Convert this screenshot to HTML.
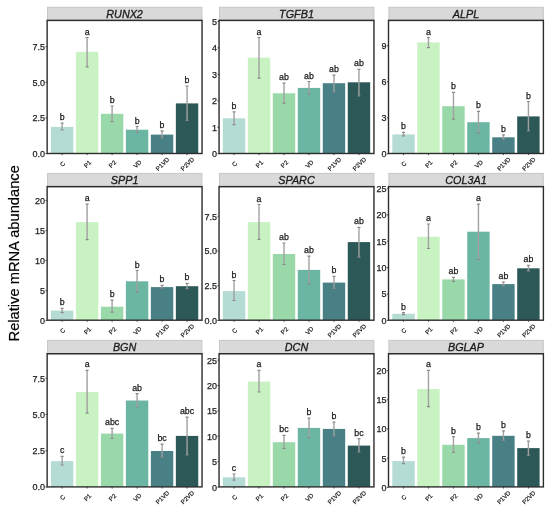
<!DOCTYPE html>
<html><head><meta charset="utf-8"><title>Relative mRNA abundance</title>
<style>
html,body{margin:0;padding:0;background:#fff;}
body{width:550px;height:511px;overflow:hidden;}
svg{display:block;}
text{font-family:"Liberation Sans",Arial,sans-serif;}
.st{font-style:italic;font-size:10.8px;fill:#1a1a1a;stroke:#1a1a1a;stroke-width:0.3;text-anchor:middle;}
.yt{font-size:9.0px;fill:#222;stroke:#222;stroke-width:0.25;text-anchor:end;}
.xt{font-size:6.1px;fill:#222;stroke:#222;stroke-width:0.2;text-anchor:middle;}
.lb{font-size:8.8px;fill:#1a1a1a;stroke:#1a1a1a;stroke-width:0.25;text-anchor:middle;}
.eb{stroke:#a0a0a0;stroke-width:1.4;fill:none;}
.ec{stroke:#8a8a8a;stroke-width:1.2;fill:none;}
.bd{fill:none;stroke:#2d2d2d;stroke-width:1.4;}
.tk{stroke:#333;stroke-width:0.9;}
</style></head><body>
<svg width="550" height="511" viewBox="0 0 550 511">
<rect width="550" height="511" fill="#fff"/>
<text x="0" y="0" transform="translate(18.7,253.3) rotate(-90)" style="font-size:14.7px;fill:#000;stroke:#000;stroke-width:0.2;text-anchor:middle;">Relative mRNA abundance</text>

<g>
<rect x="47.54" y="7.3" width="154.4" height="13.55" fill="#d9d9d9" stroke="#c6c6c6" stroke-width="1"/>
<text class="st" x="124.59" y="17.95">RUNX2</text>
<rect x="50.93" y="126.9" width="22.4" height="26.6" fill="#b4dcd4"/>
<rect x="75.91" y="51.8" width="22.4" height="101.7" fill="#c8f2c2"/>
<rect x="100.9" y="113.8" width="22.4" height="39.7" fill="#99d8a8"/>
<rect x="125.88" y="129.7" width="22.4" height="23.8" fill="#6ab6a3"/>
<rect x="150.87" y="134.6" width="22.4" height="18.9" fill="#488085"/>
<rect x="175.85" y="103.4" width="22.4" height="50.1" fill="#2c5958"/>
<path class="eb" d="M62.13 123.2V130"/><path class="ec" d="M60.63 123.2H63.63M60.63 130H63.63"/>
<path class="eb" d="M87.11 37.5V66.9"/><path class="ec" d="M85.61 37.5H88.61M85.61 66.9H88.61"/>
<path class="eb" d="M112.1 106V121.6"/><path class="ec" d="M110.6 106H113.6M110.6 121.6H113.6"/>
<path class="eb" d="M137.08 126.5V132.4"/><path class="ec" d="M135.58 126.5H138.58M135.58 132.4H138.58"/>
<path class="eb" d="M162.07 130.8V137.9"/><path class="ec" d="M160.57 130.8H163.57M160.57 137.9H163.57"/>
<path class="eb" d="M187.05 86V120.3"/><path class="ec" d="M185.55 86H188.55M185.55 120.3H188.55"/>
<text class="lb" x="62.13" y="120.2">b</text>
<text class="lb" x="87.11" y="34.5">a</text>
<text class="lb" x="112.1" y="103">b</text>
<text class="lb" x="137.08" y="123.5">b</text>
<text class="lb" x="162.07" y="127.8">b</text>
<text class="lb" x="187.05" y="83">b</text>
<rect class="bd" x="47.14" y="20.35" width="154.9" height="133.15"/>
<path class="tk" d="M45.54 153.6H47.14"/>
<text class="yt" x="45.04" y="157">0.0</text>
<path class="tk" d="M45.54 117.97H47.14"/>
<text class="yt" x="45.04" y="121.38">2.5</text>
<path class="tk" d="M45.54 82.35H47.14"/>
<text class="yt" x="45.04" y="85.75">5.0</text>
<path class="tk" d="M45.54 46.72H47.14"/>
<text class="yt" x="45.04" y="50.12">7.5</text>
<path class="tk" d="M62.13 153.5V155.1"/>
<text class="xt" transform="translate(62.63,164.1) rotate(-45)" x="0" y="2">C</text>
<path class="tk" d="M87.11 153.5V155.1"/>
<text class="xt" transform="translate(87.61,164.1) rotate(-45)" x="0" y="2">P1</text>
<path class="tk" d="M112.1 153.5V155.1"/>
<text class="xt" transform="translate(112.6,164.1) rotate(-45)" x="0" y="2">P2</text>
<path class="tk" d="M137.08 153.5V155.1"/>
<text class="xt" transform="translate(137.58,164.1) rotate(-45)" x="0" y="2">VD</text>
<path class="tk" d="M162.07 153.5V155.1"/>
<text class="xt" transform="translate(162.57,164.1) rotate(-45)" x="0" y="2">P1VD</text>
<path class="tk" d="M187.05 153.5V155.1"/>
<text class="xt" transform="translate(187.55,164.1) rotate(-45)" x="0" y="2">P2VD</text>
</g>
<g>
<rect x="219.45" y="7.3" width="154.4" height="13.55" fill="#d9d9d9" stroke="#c6c6c6" stroke-width="1"/>
<text class="st" x="296.5" y="17.95">TGFB1</text>
<rect x="222.84" y="118.3" width="22.4" height="35.2" fill="#b4dcd4"/>
<rect x="247.82" y="57.7" width="22.4" height="95.8" fill="#c8f2c2"/>
<rect x="272.81" y="93.3" width="22.4" height="60.2" fill="#99d8a8"/>
<rect x="297.79" y="87.9" width="22.4" height="65.6" fill="#6ab6a3"/>
<rect x="322.78" y="83.2" width="22.4" height="70.3" fill="#488085"/>
<rect x="347.76" y="82.3" width="22.4" height="71.2" fill="#2c5958"/>
<path class="eb" d="M234.04 111.9V124.6"/><path class="ec" d="M232.54 111.9H235.54M232.54 124.6H235.54"/>
<path class="eb" d="M259.02 37.5V78.2"/><path class="ec" d="M257.52 37.5H260.52M257.52 78.2H260.52"/>
<path class="eb" d="M284.01 83.1V103.1"/><path class="ec" d="M282.51 83.1H285.51M282.51 103.1H285.51"/>
<path class="eb" d="M308.99 81.5V93.8"/><path class="ec" d="M307.49 81.5H310.49M307.49 93.8H310.49"/>
<path class="eb" d="M333.98 75.2V91.9"/><path class="ec" d="M332.48 75.2H335.48M332.48 91.9H335.48"/>
<path class="eb" d="M358.96 69.4V95.8"/><path class="ec" d="M357.46 69.4H360.46M357.46 95.8H360.46"/>
<text class="lb" x="234.04" y="108.9">b</text>
<text class="lb" x="259.02" y="34.5">a</text>
<text class="lb" x="284.01" y="80.1">ab</text>
<text class="lb" x="308.99" y="78.5">ab</text>
<text class="lb" x="333.98" y="72.2">ab</text>
<text class="lb" x="358.96" y="66.4">ab</text>
<rect class="bd" x="219.05" y="20.35" width="154.9" height="133.15"/>
<path class="tk" d="M217.45 153.7H219.05"/>
<text class="yt" x="216.95" y="157.1">0</text>
<path class="tk" d="M217.45 127.25H219.05"/>
<text class="yt" x="216.95" y="130.65">1</text>
<path class="tk" d="M217.45 100.8H219.05"/>
<text class="yt" x="216.95" y="104.2">2</text>
<path class="tk" d="M217.45 74.35H219.05"/>
<text class="yt" x="216.95" y="77.75">3</text>
<path class="tk" d="M217.45 47.9H219.05"/>
<text class="yt" x="216.95" y="51.3">4</text>
<path class="tk" d="M217.45 21.45H219.05"/>
<text class="yt" x="216.95" y="24.85">5</text>
<path class="tk" d="M234.04 153.5V155.1"/>
<text class="xt" transform="translate(234.54,164.1) rotate(-45)" x="0" y="2">C</text>
<path class="tk" d="M259.02 153.5V155.1"/>
<text class="xt" transform="translate(259.52,164.1) rotate(-45)" x="0" y="2">P1</text>
<path class="tk" d="M284.01 153.5V155.1"/>
<text class="xt" transform="translate(284.51,164.1) rotate(-45)" x="0" y="2">P2</text>
<path class="tk" d="M308.99 153.5V155.1"/>
<text class="xt" transform="translate(309.49,164.1) rotate(-45)" x="0" y="2">VD</text>
<path class="tk" d="M333.98 153.5V155.1"/>
<text class="xt" transform="translate(334.48,164.1) rotate(-45)" x="0" y="2">P1VD</text>
<path class="tk" d="M358.96 153.5V155.1"/>
<text class="xt" transform="translate(359.46,164.1) rotate(-45)" x="0" y="2">P2VD</text>
</g>
<g>
<rect x="388.9" y="7.3" width="154.4" height="13.55" fill="#d9d9d9" stroke="#c6c6c6" stroke-width="1"/>
<text class="st" x="465.95" y="17.95">ALPL</text>
<rect x="392.29" y="134.4" width="22.4" height="19.1" fill="#b4dcd4"/>
<rect x="417.27" y="42.4" width="22.4" height="111.1" fill="#c8f2c2"/>
<rect x="442.26" y="106.2" width="22.4" height="47.3" fill="#99d8a8"/>
<rect x="467.24" y="122.2" width="22.4" height="31.3" fill="#6ab6a3"/>
<rect x="492.23" y="137.3" width="22.4" height="16.2" fill="#488085"/>
<rect x="517.21" y="116.4" width="22.4" height="37.1" fill="#2c5958"/>
<path class="eb" d="M403.49 132.4V135.9"/><path class="ec" d="M401.99 132.4H404.99M401.99 135.9H404.99"/>
<path class="eb" d="M428.47 37.5V47.7"/><path class="ec" d="M426.97 37.5H429.97M426.97 47.7H429.97"/>
<path class="eb" d="M453.46 92.3V119.1"/><path class="ec" d="M451.96 92.3H454.96M451.96 119.1H454.96"/>
<path class="eb" d="M478.44 111.3V132.8"/><path class="ec" d="M476.94 111.3H479.94M476.94 132.8H479.94"/>
<path class="eb" d="M503.43 134.8V139.3"/><path class="ec" d="M501.93 134.8H504.93M501.93 139.3H504.93"/>
<path class="eb" d="M528.41 101.5V130.8"/><path class="ec" d="M526.91 101.5H529.91M526.91 130.8H529.91"/>
<text class="lb" x="403.49" y="129.4">b</text>
<text class="lb" x="428.47" y="34.5">a</text>
<text class="lb" x="453.46" y="89.3">b</text>
<text class="lb" x="478.44" y="108.3">b</text>
<text class="lb" x="503.43" y="131.8">b</text>
<text class="lb" x="528.41" y="98.5">b</text>
<rect class="bd" x="388.5" y="20.35" width="154.9" height="133.15"/>
<path class="tk" d="M386.9 153.8H388.5"/>
<text class="yt" x="386.4" y="157.2">0</text>
<path class="tk" d="M386.9 117.77H388.5"/>
<text class="yt" x="386.4" y="121.17">3</text>
<path class="tk" d="M386.9 81.74H388.5"/>
<text class="yt" x="386.4" y="85.14">6</text>
<path class="tk" d="M386.9 45.71H388.5"/>
<text class="yt" x="386.4" y="49.11">9</text>
<path class="tk" d="M403.49 153.5V155.1"/>
<text class="xt" transform="translate(403.99,164.1) rotate(-45)" x="0" y="2">C</text>
<path class="tk" d="M428.47 153.5V155.1"/>
<text class="xt" transform="translate(428.97,164.1) rotate(-45)" x="0" y="2">P1</text>
<path class="tk" d="M453.46 153.5V155.1"/>
<text class="xt" transform="translate(453.96,164.1) rotate(-45)" x="0" y="2">P2</text>
<path class="tk" d="M478.44 153.5V155.1"/>
<text class="xt" transform="translate(478.94,164.1) rotate(-45)" x="0" y="2">VD</text>
<path class="tk" d="M503.43 153.5V155.1"/>
<text class="xt" transform="translate(503.93,164.1) rotate(-45)" x="0" y="2">P1VD</text>
<path class="tk" d="M528.41 153.5V155.1"/>
<text class="xt" transform="translate(528.91,164.1) rotate(-45)" x="0" y="2">P2VD</text>
</g>
<g>
<rect x="47.54" y="173.4" width="154.4" height="13.7" fill="#d9d9d9" stroke="#c6c6c6" stroke-width="1"/>
<text class="st" x="124.59" y="184.2">SPP1</text>
<rect x="50.93" y="310.6" width="22.4" height="9.6" fill="#b4dcd4"/>
<rect x="75.91" y="222.1" width="22.4" height="98.1" fill="#c8f2c2"/>
<rect x="100.9" y="306.7" width="22.4" height="13.5" fill="#99d8a8"/>
<rect x="125.88" y="281.3" width="22.4" height="38.9" fill="#6ab6a3"/>
<rect x="150.87" y="287.1" width="22.4" height="33.1" fill="#488085"/>
<rect x="175.85" y="286.2" width="22.4" height="34" fill="#2c5958"/>
<path class="eb" d="M62.13 308.3V312.6"/><path class="ec" d="M60.63 308.3H63.63M60.63 312.6H63.63"/>
<path class="eb" d="M87.11 204.1V239.7"/><path class="ec" d="M85.61 204.1H88.61M85.61 239.7H88.61"/>
<path class="eb" d="M112.1 300.1V312.2"/><path class="ec" d="M110.6 300.1H113.6M110.6 312.2H113.6"/>
<path class="eb" d="M137.08 270.5V292.2"/><path class="ec" d="M135.58 270.5H138.58M135.58 292.2H138.58"/>
<path class="eb" d="M162.07 285.4V288.1"/><path class="ec" d="M160.57 285.4H163.57M160.57 288.1H163.57"/>
<path class="eb" d="M187.05 283.4V288.7"/><path class="ec" d="M185.55 283.4H188.55M185.55 288.7H188.55"/>
<text class="lb" x="62.13" y="305.3">b</text>
<text class="lb" x="87.11" y="201.1">a</text>
<text class="lb" x="112.1" y="297.1">b</text>
<text class="lb" x="137.08" y="267.5">b</text>
<text class="lb" x="162.07" y="282.4">b</text>
<text class="lb" x="187.05" y="280.4">b</text>
<rect class="bd" x="47.14" y="186.6" width="154.9" height="133.6"/>
<path class="tk" d="M45.54 320.6H47.14"/>
<text class="yt" x="45.04" y="324">0</text>
<path class="tk" d="M45.54 290.6H47.14"/>
<text class="yt" x="45.04" y="294">5</text>
<path class="tk" d="M45.54 260.6H47.14"/>
<text class="yt" x="45.04" y="264">10</text>
<path class="tk" d="M45.54 230.6H47.14"/>
<text class="yt" x="45.04" y="234">15</text>
<path class="tk" d="M45.54 200.6H47.14"/>
<text class="yt" x="45.04" y="204">20</text>
<path class="tk" d="M62.13 320.2V321.8"/>
<text class="xt" transform="translate(62.63,330.8) rotate(-45)" x="0" y="2">C</text>
<path class="tk" d="M87.11 320.2V321.8"/>
<text class="xt" transform="translate(87.61,330.8) rotate(-45)" x="0" y="2">P1</text>
<path class="tk" d="M112.1 320.2V321.8"/>
<text class="xt" transform="translate(112.6,330.8) rotate(-45)" x="0" y="2">P2</text>
<path class="tk" d="M137.08 320.2V321.8"/>
<text class="xt" transform="translate(137.58,330.8) rotate(-45)" x="0" y="2">VD</text>
<path class="tk" d="M162.07 320.2V321.8"/>
<text class="xt" transform="translate(162.57,330.8) rotate(-45)" x="0" y="2">P1VD</text>
<path class="tk" d="M187.05 320.2V321.8"/>
<text class="xt" transform="translate(187.55,330.8) rotate(-45)" x="0" y="2">P2VD</text>
</g>
<g>
<rect x="219.45" y="173.4" width="154.4" height="13.7" fill="#d9d9d9" stroke="#c6c6c6" stroke-width="1"/>
<text class="st" x="296.5" y="184.2">SPARC</text>
<rect x="222.84" y="291.1" width="22.4" height="29.1" fill="#b4dcd4"/>
<rect x="247.82" y="222.1" width="22.4" height="98.1" fill="#c8f2c2"/>
<rect x="272.81" y="254" width="22.4" height="66.2" fill="#99d8a8"/>
<rect x="297.79" y="269.9" width="22.4" height="50.3" fill="#6ab6a3"/>
<rect x="322.78" y="282.6" width="22.4" height="37.6" fill="#488085"/>
<rect x="347.76" y="242.1" width="22.4" height="78.1" fill="#2c5958"/>
<path class="eb" d="M234.04 280.5V300.5"/><path class="ec" d="M232.54 280.5H235.54M232.54 300.5H235.54"/>
<path class="eb" d="M259.02 204.5V239.3"/><path class="ec" d="M257.52 204.5H260.52M257.52 239.3H260.52"/>
<path class="eb" d="M284.01 243V264.5"/><path class="ec" d="M282.51 243H285.51M282.51 264.5H285.51"/>
<path class="eb" d="M308.99 256.2V283.8"/><path class="ec" d="M307.49 256.2H310.49M307.49 283.8H310.49"/>
<path class="eb" d="M333.98 276.3V288.5"/><path class="ec" d="M332.48 276.3H335.48M332.48 288.5H335.48"/>
<path class="eb" d="M358.96 227.4V257.1"/><path class="ec" d="M357.46 227.4H360.46M357.46 257.1H360.46"/>
<text class="lb" x="234.04" y="277.5">b</text>
<text class="lb" x="259.02" y="201.5">a</text>
<text class="lb" x="284.01" y="240">ab</text>
<text class="lb" x="308.99" y="253.2">ab</text>
<text class="lb" x="333.98" y="273.3">b</text>
<text class="lb" x="358.96" y="224.4">ab</text>
<rect class="bd" x="219.05" y="186.6" width="154.9" height="133.6"/>
<path class="tk" d="M217.45 320.5H219.05"/>
<text class="yt" x="216.95" y="323.9">0.0</text>
<path class="tk" d="M217.45 285.75H219.05"/>
<text class="yt" x="216.95" y="289.15">2.5</text>
<path class="tk" d="M217.45 251H219.05"/>
<text class="yt" x="216.95" y="254.4">5.0</text>
<path class="tk" d="M217.45 216.25H219.05"/>
<text class="yt" x="216.95" y="219.65">7.5</text>
<path class="tk" d="M234.04 320.2V321.8"/>
<text class="xt" transform="translate(234.54,330.8) rotate(-45)" x="0" y="2">C</text>
<path class="tk" d="M259.02 320.2V321.8"/>
<text class="xt" transform="translate(259.52,330.8) rotate(-45)" x="0" y="2">P1</text>
<path class="tk" d="M284.01 320.2V321.8"/>
<text class="xt" transform="translate(284.51,330.8) rotate(-45)" x="0" y="2">P2</text>
<path class="tk" d="M308.99 320.2V321.8"/>
<text class="xt" transform="translate(309.49,330.8) rotate(-45)" x="0" y="2">VD</text>
<path class="tk" d="M333.98 320.2V321.8"/>
<text class="xt" transform="translate(334.48,330.8) rotate(-45)" x="0" y="2">P1VD</text>
<path class="tk" d="M358.96 320.2V321.8"/>
<text class="xt" transform="translate(359.46,330.8) rotate(-45)" x="0" y="2">P2VD</text>
</g>
<g>
<rect x="388.9" y="173.4" width="154.4" height="13.7" fill="#d9d9d9" stroke="#c6c6c6" stroke-width="1"/>
<text class="st" x="465.95" y="184.2">COL3A1</text>
<rect x="392.29" y="313.8" width="22.4" height="6.4" fill="#b4dcd4"/>
<rect x="417.27" y="236.8" width="22.4" height="83.4" fill="#c8f2c2"/>
<rect x="442.26" y="279.4" width="22.4" height="40.8" fill="#99d8a8"/>
<rect x="467.24" y="231.7" width="22.4" height="88.5" fill="#6ab6a3"/>
<rect x="492.23" y="284.1" width="22.4" height="36.1" fill="#488085"/>
<rect x="517.21" y="268.3" width="22.4" height="51.9" fill="#2c5958"/>
<path class="eb" d="M403.49 312.6V314.7"/><path class="ec" d="M401.99 312.6H404.99M401.99 314.7H404.99"/>
<path class="eb" d="M428.47 224V248.5"/><path class="ec" d="M426.97 224H429.97M426.97 248.5H429.97"/>
<path class="eb" d="M453.46 277.4V281.3"/><path class="ec" d="M451.96 277.4H454.96M451.96 281.3H454.96"/>
<path class="eb" d="M478.44 204.1V259.5"/><path class="ec" d="M476.94 204.1H479.94M476.94 259.5H479.94"/>
<path class="eb" d="M503.43 282V285.9"/><path class="ec" d="M501.93 282H504.93M501.93 285.9H504.93"/>
<path class="eb" d="M528.41 265.3V270.8"/><path class="ec" d="M526.91 265.3H529.91M526.91 270.8H529.91"/>
<text class="lb" x="403.49" y="309.6">b</text>
<text class="lb" x="428.47" y="221">a</text>
<text class="lb" x="453.46" y="274.4">ab</text>
<text class="lb" x="478.44" y="201.1">a</text>
<text class="lb" x="503.43" y="279">ab</text>
<text class="lb" x="528.41" y="262.3">ab</text>
<rect class="bd" x="388.5" y="186.6" width="154.9" height="133.6"/>
<path class="tk" d="M386.9 320.4H388.5"/>
<text class="yt" x="386.4" y="323.8">0</text>
<path class="tk" d="M386.9 294H388.5"/>
<text class="yt" x="386.4" y="297.4">5</text>
<path class="tk" d="M386.9 267.6H388.5"/>
<text class="yt" x="386.4" y="271">10</text>
<path class="tk" d="M386.9 241.2H388.5"/>
<text class="yt" x="386.4" y="244.6">15</text>
<path class="tk" d="M386.9 214.8H388.5"/>
<text class="yt" x="386.4" y="218.2">20</text>
<path class="tk" d="M386.9 188.4H388.5"/>
<text class="yt" x="386.4" y="191.8">25</text>
<path class="tk" d="M403.49 320.2V321.8"/>
<text class="xt" transform="translate(403.99,330.8) rotate(-45)" x="0" y="2">C</text>
<path class="tk" d="M428.47 320.2V321.8"/>
<text class="xt" transform="translate(428.97,330.8) rotate(-45)" x="0" y="2">P1</text>
<path class="tk" d="M453.46 320.2V321.8"/>
<text class="xt" transform="translate(453.96,330.8) rotate(-45)" x="0" y="2">P2</text>
<path class="tk" d="M478.44 320.2V321.8"/>
<text class="xt" transform="translate(478.94,330.8) rotate(-45)" x="0" y="2">VD</text>
<path class="tk" d="M503.43 320.2V321.8"/>
<text class="xt" transform="translate(503.93,330.8) rotate(-45)" x="0" y="2">P1VD</text>
<path class="tk" d="M528.41 320.2V321.8"/>
<text class="xt" transform="translate(528.91,330.8) rotate(-45)" x="0" y="2">P2VD</text>
</g>
<g>
<rect x="47.54" y="340.4" width="154.4" height="13.8" fill="#d9d9d9" stroke="#c6c6c6" stroke-width="1"/>
<text class="st" x="124.59" y="351.3">BGN</text>
<rect x="50.93" y="461.1" width="22.4" height="25.8" fill="#b4dcd4"/>
<rect x="75.91" y="392" width="22.4" height="94.9" fill="#c8f2c2"/>
<rect x="100.9" y="433.6" width="22.4" height="53.3" fill="#99d8a8"/>
<rect x="125.88" y="400.5" width="22.4" height="86.4" fill="#6ab6a3"/>
<rect x="150.87" y="451" width="22.4" height="35.9" fill="#488085"/>
<rect x="175.85" y="435.9" width="22.4" height="51" fill="#2c5958"/>
<path class="eb" d="M62.13 456.4V465"/><path class="ec" d="M60.63 456.4H63.63M60.63 465H63.63"/>
<path class="eb" d="M87.11 370.4V413.1"/><path class="ec" d="M85.61 370.4H88.61M85.61 413.1H88.61"/>
<path class="eb" d="M112.1 428.3V438.5"/><path class="ec" d="M110.6 428.3H113.6M110.6 438.5H113.6"/>
<path class="eb" d="M137.08 393.7V407"/><path class="ec" d="M135.58 393.7H138.58M135.58 407H138.58"/>
<path class="eb" d="M162.07 444.1V456.9"/><path class="ec" d="M160.57 444.1H163.57M160.57 456.9H163.57"/>
<path class="eb" d="M187.05 417.1V454.9"/><path class="ec" d="M185.55 417.1H188.55M185.55 454.9H188.55"/>
<text class="lb" x="62.13" y="453.4">c</text>
<text class="lb" x="87.11" y="367.4">a</text>
<text class="lb" x="112.1" y="425.3">abc</text>
<text class="lb" x="137.08" y="390.7">ab</text>
<text class="lb" x="162.07" y="441.1">bc</text>
<text class="lb" x="187.05" y="414.1">abc</text>
<rect class="bd" x="47.14" y="353.7" width="154.9" height="133.2"/>
<path class="tk" d="M45.54 487H47.14"/>
<text class="yt" x="45.04" y="490.4">0.0</text>
<path class="tk" d="M45.54 450.75H47.14"/>
<text class="yt" x="45.04" y="454.15">2.5</text>
<path class="tk" d="M45.54 414.5H47.14"/>
<text class="yt" x="45.04" y="417.9">5.0</text>
<path class="tk" d="M45.54 378.25H47.14"/>
<text class="yt" x="45.04" y="381.65">7.5</text>
<path class="tk" d="M62.13 486.9V488.5"/>
<text class="xt" transform="translate(62.63,497.5) rotate(-45)" x="0" y="2">C</text>
<path class="tk" d="M87.11 486.9V488.5"/>
<text class="xt" transform="translate(87.61,497.5) rotate(-45)" x="0" y="2">P1</text>
<path class="tk" d="M112.1 486.9V488.5"/>
<text class="xt" transform="translate(112.6,497.5) rotate(-45)" x="0" y="2">P2</text>
<path class="tk" d="M137.08 486.9V488.5"/>
<text class="xt" transform="translate(137.58,497.5) rotate(-45)" x="0" y="2">VD</text>
<path class="tk" d="M162.07 486.9V488.5"/>
<text class="xt" transform="translate(162.57,497.5) rotate(-45)" x="0" y="2">P1VD</text>
<path class="tk" d="M187.05 486.9V488.5"/>
<text class="xt" transform="translate(187.55,497.5) rotate(-45)" x="0" y="2">P2VD</text>
</g>
<g>
<rect x="219.45" y="340.4" width="154.4" height="13.8" fill="#d9d9d9" stroke="#c6c6c6" stroke-width="1"/>
<text class="st" x="296.5" y="351.3">DCN</text>
<rect x="222.84" y="477.3" width="22.4" height="9.6" fill="#b4dcd4"/>
<rect x="247.82" y="381.6" width="22.4" height="105.3" fill="#c8f2c2"/>
<rect x="272.81" y="442.2" width="22.4" height="44.7" fill="#99d8a8"/>
<rect x="297.79" y="427.9" width="22.4" height="59" fill="#6ab6a3"/>
<rect x="322.78" y="428.9" width="22.4" height="58" fill="#488085"/>
<rect x="347.76" y="445.6" width="22.4" height="41.3" fill="#2c5958"/>
<path class="eb" d="M234.04 474V480.2"/><path class="ec" d="M232.54 474H235.54M232.54 480.2H235.54"/>
<path class="eb" d="M259.02 370.4V392"/><path class="ec" d="M257.52 370.4H260.52M257.52 392H260.52"/>
<path class="eb" d="M284.01 435.3V448.5"/><path class="ec" d="M282.51 435.3H285.51M282.51 448.5H285.51"/>
<path class="eb" d="M308.99 418.2V437.7"/><path class="ec" d="M307.49 418.2H310.49M307.49 437.7H310.49"/>
<path class="eb" d="M333.98 422.1V435.8"/><path class="ec" d="M332.48 422.1H335.48M332.48 435.8H335.48"/>
<path class="eb" d="M358.96 438.7V452"/><path class="ec" d="M357.46 438.7H360.46M357.46 452H360.46"/>
<text class="lb" x="234.04" y="471">c</text>
<text class="lb" x="259.02" y="367.4">a</text>
<text class="lb" x="284.01" y="432.3">bc</text>
<text class="lb" x="308.99" y="415.2">b</text>
<text class="lb" x="333.98" y="419.1">b</text>
<text class="lb" x="358.96" y="435.7">bc</text>
<rect class="bd" x="219.05" y="353.7" width="154.9" height="133.2"/>
<path class="tk" d="M217.45 487.1H219.05"/>
<text class="yt" x="216.95" y="490.5">0</text>
<path class="tk" d="M217.45 461.7H219.05"/>
<text class="yt" x="216.95" y="465.1">5</text>
<path class="tk" d="M217.45 436.3H219.05"/>
<text class="yt" x="216.95" y="439.7">10</text>
<path class="tk" d="M217.45 410.9H219.05"/>
<text class="yt" x="216.95" y="414.3">15</text>
<path class="tk" d="M217.45 385.5H219.05"/>
<text class="yt" x="216.95" y="388.9">20</text>
<path class="tk" d="M217.45 360.1H219.05"/>
<text class="yt" x="216.95" y="363.5">25</text>
<path class="tk" d="M234.04 486.9V488.5"/>
<text class="xt" transform="translate(234.54,497.5) rotate(-45)" x="0" y="2">C</text>
<path class="tk" d="M259.02 486.9V488.5"/>
<text class="xt" transform="translate(259.52,497.5) rotate(-45)" x="0" y="2">P1</text>
<path class="tk" d="M284.01 486.9V488.5"/>
<text class="xt" transform="translate(284.51,497.5) rotate(-45)" x="0" y="2">P2</text>
<path class="tk" d="M308.99 486.9V488.5"/>
<text class="xt" transform="translate(309.49,497.5) rotate(-45)" x="0" y="2">VD</text>
<path class="tk" d="M333.98 486.9V488.5"/>
<text class="xt" transform="translate(334.48,497.5) rotate(-45)" x="0" y="2">P1VD</text>
<path class="tk" d="M358.96 486.9V488.5"/>
<text class="xt" transform="translate(359.46,497.5) rotate(-45)" x="0" y="2">P2VD</text>
</g>
<g>
<rect x="388.9" y="340.4" width="154.4" height="13.8" fill="#d9d9d9" stroke="#c6c6c6" stroke-width="1"/>
<text class="st" x="465.95" y="351.3">BGLAP</text>
<rect x="392.29" y="461.1" width="22.4" height="25.8" fill="#b4dcd4"/>
<rect x="417.27" y="389" width="22.4" height="97.9" fill="#c8f2c2"/>
<rect x="442.26" y="444.8" width="22.4" height="42.1" fill="#99d8a8"/>
<rect x="467.24" y="438.1" width="22.4" height="48.8" fill="#6ab6a3"/>
<rect x="492.23" y="435.8" width="22.4" height="51.1" fill="#488085"/>
<rect x="517.21" y="448.1" width="22.4" height="38.8" fill="#2c5958"/>
<path class="eb" d="M403.49 457.1V463.6"/><path class="ec" d="M401.99 457.1H404.99M401.99 463.6H404.99"/>
<path class="eb" d="M428.47 370.4V406.6"/><path class="ec" d="M426.97 370.4H429.97M426.97 406.6H429.97"/>
<path class="eb" d="M453.46 436.7V452.4"/><path class="ec" d="M451.96 436.7H454.96M451.96 452.4H454.96"/>
<path class="eb" d="M478.44 433.2V442.6"/><path class="ec" d="M476.94 433.2H479.94M476.94 442.6H479.94"/>
<path class="eb" d="M503.43 430.9V440.3"/><path class="ec" d="M501.93 430.9H504.93M501.93 440.3H504.93"/>
<path class="eb" d="M528.41 441.1V455.3"/><path class="ec" d="M526.91 441.1H529.91M526.91 455.3H529.91"/>
<text class="lb" x="403.49" y="454.1">b</text>
<text class="lb" x="428.47" y="367.4">a</text>
<text class="lb" x="453.46" y="433.7">b</text>
<text class="lb" x="478.44" y="430.2">b</text>
<text class="lb" x="503.43" y="427.9">b</text>
<text class="lb" x="528.41" y="438.1">b</text>
<rect class="bd" x="388.5" y="353.7" width="154.9" height="133.2"/>
<path class="tk" d="M386.9 487.4H388.5"/>
<text class="yt" x="386.4" y="490.8">0</text>
<path class="tk" d="M386.9 458.2H388.5"/>
<text class="yt" x="386.4" y="461.6">5</text>
<path class="tk" d="M386.9 429H388.5"/>
<text class="yt" x="386.4" y="432.4">10</text>
<path class="tk" d="M386.9 399.8H388.5"/>
<text class="yt" x="386.4" y="403.2">15</text>
<path class="tk" d="M386.9 370.6H388.5"/>
<text class="yt" x="386.4" y="374">20</text>
<path class="tk" d="M403.49 486.9V488.5"/>
<text class="xt" transform="translate(403.99,497.5) rotate(-45)" x="0" y="2">C</text>
<path class="tk" d="M428.47 486.9V488.5"/>
<text class="xt" transform="translate(428.97,497.5) rotate(-45)" x="0" y="2">P1</text>
<path class="tk" d="M453.46 486.9V488.5"/>
<text class="xt" transform="translate(453.96,497.5) rotate(-45)" x="0" y="2">P2</text>
<path class="tk" d="M478.44 486.9V488.5"/>
<text class="xt" transform="translate(478.94,497.5) rotate(-45)" x="0" y="2">VD</text>
<path class="tk" d="M503.43 486.9V488.5"/>
<text class="xt" transform="translate(503.93,497.5) rotate(-45)" x="0" y="2">P1VD</text>
<path class="tk" d="M528.41 486.9V488.5"/>
<text class="xt" transform="translate(528.91,497.5) rotate(-45)" x="0" y="2">P2VD</text>
</g>
</svg>
</body></html>
